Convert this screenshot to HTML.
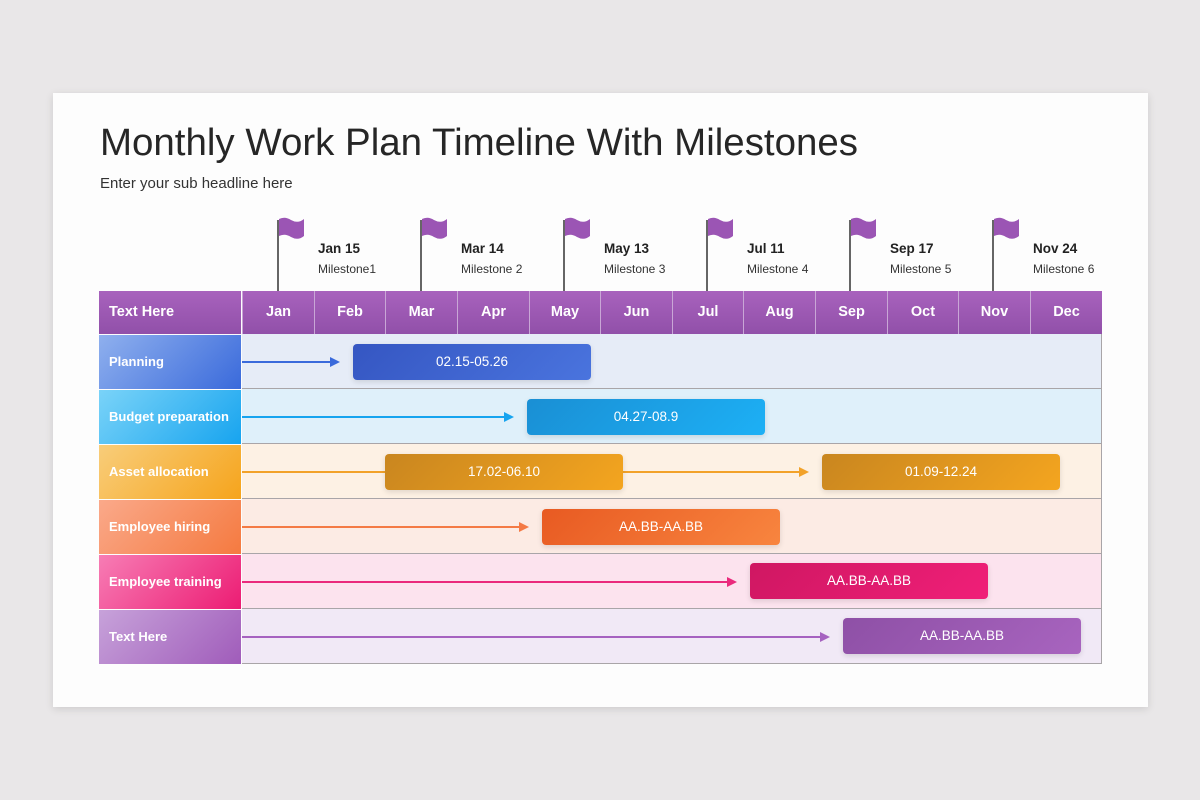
<!DOCTYPE html>
<html><head><meta charset="utf-8"><style>
body{margin:0;width:1200px;height:800px;background:#e9e7e8;font-family:"Liberation Sans",sans-serif;position:relative;overflow:hidden}
.card{position:absolute;left:53px;top:93px;width:1095px;height:614px;background:#fdfdfd;box-shadow:0 2px 8px rgba(0,0,0,.12)}
.a{position:absolute}
.hd{position:absolute;top:291px;height:43px;color:#fff;font-weight:bold;font-size:14.5px;line-height:43px;text-align:center;background:linear-gradient(180deg,#a862bd,#9150a9);border-left:1px solid #c9a6d6}
.lab{position:absolute;left:99px;width:142px;height:54px;color:#fff;font-weight:bold;font-size:13px;line-height:54px;padding-left:10px;box-sizing:border-box}
.row{position:absolute;left:242px;width:859px;height:54px;border-bottom:1px solid #a9a5a8;border-right:1px solid #a9a5a8}
.bar{position:absolute;width:238px;height:36px;border-radius:4px;color:#fff;font-size:13.5px;line-height:36px;text-align:center;box-shadow:0 2px 6px rgba(0,0,0,.12)}
.md{position:absolute;font-size:13.5px;font-weight:bold;color:#222}
.ms{position:absolute;font-size:12px;color:#333}
</style></head><body>
<div class="card"></div>
<svg class="a" style="left:0;top:0" width="1200" height="800">
<text x="100" y="155" font-family="Liberation Sans" font-size="38" fill="#262626" textLength="758" lengthAdjust="spacingAndGlyphs">Monthly Work Plan Timeline With Milestones</text>
<text x="100" y="188" font-family="Liberation Sans" font-size="15" fill="#333">Enter your sub headline here</text>
</svg>
<div class="hd" style="left:99px;width:142px;text-align:left;padding-left:10px;box-sizing:border-box;border-left:none">Text Here</div>
<div class="hd" style="left:242px;width:71px">Jan</div>
<div class="hd" style="left:314px;width:70px">Feb</div>
<div class="hd" style="left:385px;width:71px">Mar</div>
<div class="hd" style="left:457px;width:71px">Apr</div>
<div class="hd" style="left:529px;width:70px">May</div>
<div class="hd" style="left:600px;width:71px">Jun</div>
<div class="hd" style="left:672px;width:70px">Jul</div>
<div class="hd" style="left:743px;width:71px">Aug</div>
<div class="hd" style="left:815px;width:71px">Sep</div>
<div class="hd" style="left:887px;width:70px">Oct</div>
<div class="hd" style="left:958px;width:71px">Nov</div>
<div class="hd" style="left:1030px;width:71px">Dec</div>

<div class="row" style="top:334px;background:#e6ecf7"></div>
<div class="row" style="top:389px;background:#dff0fa"></div>
<div class="row" style="top:444px;background:#fdf1e4"></div>
<div class="row" style="top:499px;background:#fcebe4"></div>
<div class="row" style="top:554px;background:#fce3ee"></div>
<div class="row" style="top:609px;background:#f1e9f6"></div>

<div class="lab" style="top:335px;background:linear-gradient(135deg,#8fb0ee,#3a6adb)">Planning</div>
<div class="lab" style="top:390px;background:linear-gradient(135deg,#7ad3f8,#17a4ef)">Budget preparation</div>
<div class="lab" style="top:445px;background:linear-gradient(135deg,#f8cd7a,#f6a41c)">Asset allocation</div>
<div class="lab" style="top:500px;background:linear-gradient(135deg,#faa98a,#f57a40)">Employee hiring</div>
<div class="lab" style="top:555px;background:linear-gradient(135deg,#f77db5,#ec1c73)">Employee training</div>
<div class="lab" style="top:610px;background:linear-gradient(135deg,#c7a2da,#a05cba)">Text Here</div>

<svg class="a" style="left:0;top:0" width="1200" height="800">
<defs><g id="f"><line x1="278" y1="220" x2="278" y2="291" stroke="#666" stroke-width="2"/><path d="M279,219 Q285,216 291,220 Q298,224 304,219 L304,236 Q298,241 291,237 Q285,233 279,236 Z" fill="#9b55b4"/></g></defs>
<g stroke-width="2">
<line x1="242" y1="362" x2="332" y2="362" stroke="#3a6adb"/><polygon points="340,362 330,357 330,367" fill="#3a6adb"/>
<line x1="242" y1="417" x2="506" y2="417" stroke="#17a4ef"/><polygon points="514,417 504,412 504,422" fill="#17a4ef"/>
<line x1="242" y1="472" x2="386" y2="472" stroke="#f2a22a"/>
<line x1="622" y1="472" x2="801" y2="472" stroke="#f2a22a"/><polygon points="809,472 799,467 799,477" fill="#f2a22a"/>
<line x1="242" y1="527" x2="521" y2="527" stroke="#f47a45"/><polygon points="529,527 519,522 519,532" fill="#f47a45"/>
<line x1="242" y1="582" x2="729" y2="582" stroke="#ea2a7c"/><polygon points="737,582 727,577 727,587" fill="#ea2a7c"/>
<line x1="242" y1="637" x2="822" y2="637" stroke="#a662c0"/><polygon points="830,637 820,632 820,642" fill="#a662c0"/>
</g>
<use href="#f"/>
<use href="#f" transform="translate(143,0)"/>
<use href="#f" transform="translate(286,0)"/>
<use href="#f" transform="translate(429,0)"/>
<use href="#f" transform="translate(572,0)"/>
<use href="#f" transform="translate(715,0)"/>
</svg>

<div class="md" style="left:318px;top:241px">Jan 15</div><div class="ms" style="left:318px;top:262px">Milestone1</div>
<div class="md" style="left:461px;top:241px">Mar 14</div><div class="ms" style="left:461px;top:262px">Milestone 2</div>
<div class="md" style="left:604px;top:241px">May 13</div><div class="ms" style="left:604px;top:262px">Milestone 3</div>
<div class="md" style="left:747px;top:241px">Jul 11</div><div class="ms" style="left:747px;top:262px">Milestone 4</div>
<div class="md" style="left:890px;top:241px">Sep 17</div><div class="ms" style="left:890px;top:262px">Milestone 5</div>
<div class="md" style="left:1033px;top:241px">Nov 24</div><div class="ms" style="left:1033px;top:262px">Milestone 6</div>

<div class="bar" style="left:353px;top:344px;background:linear-gradient(135deg,#3556c2,#4a74de)">02.15-05.26</div>
<div class="bar" style="left:527px;top:399px;background:linear-gradient(135deg,#1a8fd4,#1db0f5)">04.27-08.9</div>
<div class="bar" style="left:385px;top:454px;background:linear-gradient(135deg,#c9861f,#f4a51f)">17.02-06.10</div>
<div class="bar" style="left:822px;top:454px;background:linear-gradient(135deg,#c9861f,#f4a51f)">01.09-12.24</div>
<div class="bar" style="left:542px;top:509px;background:linear-gradient(135deg,#e85a22,#f8853f)">AA.BB-AA.BB</div>
<div class="bar" style="left:750px;top:563px;background:linear-gradient(135deg,#cf1762,#f01f78)">AA.BB-AA.BB</div>
<div class="bar" style="left:843px;top:618px;background:linear-gradient(135deg,#8e50a6,#a864bf)">AA.BB-AA.BB</div>
</body></html>
